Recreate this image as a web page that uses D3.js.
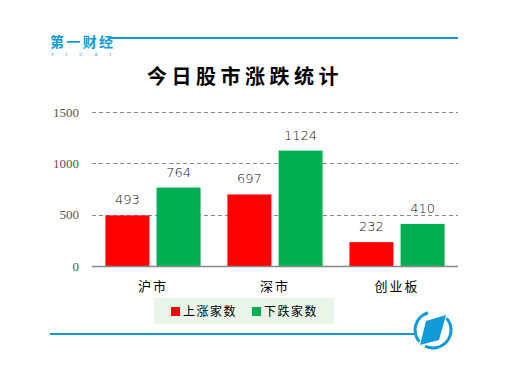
<!DOCTYPE html>
<html><head><meta charset="utf-8">
<script src="https://cdn.jsdelivr.net/npm/d3@7"></script>
<style>body{margin:0;background:#fff}svg{display:block}</style>
</head><body>
<script>
const categories = ["沪市", "深市", "创业板"];
const seriesNames = ["上涨家数", "下跌家数"];
const upValues = [493, 697, 232];
const downValues = [764, 1124, 410];
const yTicks = [0, 500, 1000, 1500];
const title = "今日股市涨跌统计";

const W = 516, H = 371;
const colors = ["#ff0000", "#00b050"];
const blue = "#0f9ad9";
const svg = d3.select("body").append("svg").attr("width", W).attr("height", H);

// header line & logo
svg.append("line").attr("x1", 108).attr("x2", 458).attr("y1", 38).attr("y2", 38)
  .attr("stroke", blue).attr("stroke-width", 2);
svg.append("text").attr("x", 50).attr("y", 47).text("第一财经")
  .attr("font-family", "Noto Sans CJK SC").attr("font-weight", "bold")
  .attr("font-size", 14).attr("fill", blue).attr("textLength", 63);
svg.append("text").attr("x", 51).attr("y", 56).text("Y I C A I")
  .attr("font-family", "DejaVu Sans").attr("font-size", 4.5).attr("fill", blue).attr("textLength", 60);

// title
svg.append("text").attr("x", 245).attr("y", 84).attr("text-anchor", "middle")
  .text(title).attr("font-family", "Noto Sans CJK SC").attr("font-weight", "bold")
  .attr("font-size", 20).attr("letter-spacing", 4.5).attr("fill", "#000");

// scales
const x0 = d3.scaleBand().domain(categories).range([92, 458]).paddingInner(0.22).paddingOuter(0.11);
const x1 = d3.scaleBand().domain(seriesNames).range([0, x0.bandwidth()]).paddingInner(0.14);
const y = d3.scaleLinear().domain([0, 1500]).range([266, 112]);

// grid
svg.append("g").selectAll("line").data(yTicks.filter(d => d > 0)).join("line")
  .attr("x1", 92).attr("x2", 458).attr("y1", d => Math.round(y(d)) + 0.5).attr("y2", d => Math.round(y(d)) + 0.5)
  .attr("stroke", "#888").attr("stroke-dasharray", "4,3");

// y labels
svg.append("g").selectAll("text").data(yTicks).join("text")
  .attr("x", 79).attr("y", d => y(d) + 4.5).attr("text-anchor", "end").text(d => d)
  .attr("font-family", "Liberation Serif").attr("font-size", 13).attr("fill", "#555");

// bars
const data = categories.map((c, i) => ({c, vals: [upValues[i], downValues[i]]}));
const g = svg.append("g").selectAll("g").data(data).join("g")
  .attr("transform", d => `translate(${x0(d.c)},0)`);
g.selectAll("rect").data(d => d.vals.map((v, j) => ({v, s: seriesNames[j], j}))).join("rect")
  .attr("x", d => x1(d.s)).attr("width", x1.bandwidth())
  .attr("y", d => y(d.v)).attr("height", d => y(0) - y(d.v))
  .attr("fill", d => colors[d.j]);
g.selectAll("text").data(d => d.vals.map((v, j) => ({v, s: seriesNames[j], j}))).join("text")
  .attr("x", d => x1(d.s) + x1.bandwidth() / 2).attr("y", d => y(d.v) - 11)
  .attr("text-anchor", "middle").text(d => d.v)
  .attr("font-family", "DejaVu Sans").attr("font-weight", 300).attr("font-size", 13).attr("fill", "#111");

// axis line
svg.append("line").attr("x1", 92).attr("x2", 458).attr("y1", 266.5).attr("y2", 266.5)
  .attr("stroke", "#888").attr("stroke-width", 1.5);

// category labels
svg.append("g").selectAll("text").data(categories).join("text")
  .attr("x", d => x0(d) + x0.bandwidth() / 2).attr("y", 291).attr("text-anchor", "middle")
  .text(d => d).attr("font-family", "Noto Sans CJK SC").attr("font-size", 13)
  .attr("letter-spacing", 2).attr("fill", "#000");

// legend
svg.append("rect").attr("x", 154).attr("y", 298).attr("width", 180).attr("height", 26).attr("fill", "#e8f5e8");
const lx = [171, 252];
seriesNames.forEach((s, i) => {
  svg.append("rect").attr("x", lx[i]).attr("y", 307).attr("width", 9).attr("height", 9).attr("fill", colors[i]);
  svg.append("text").attr("x", lx[i] + 12).attr("y", 316).text(s)
    .attr("font-family", "Noto Sans CJK SC").attr("font-size", 12).attr("letter-spacing", 1.5).attr("fill", "#000");
});

// bottom line & icon
svg.append("line").attr("x1", 50).attr("x2", 415).attr("y1", 334).attr("y2", 334)
  .attr("stroke", blue).attr("stroke-width", 2);
const cx = 433, cy = 330, r = 18;
const arc = d3.arc().innerRadius(r - 1.5).outerRadius(r + 1.5);
svg.append("path").attr("transform", `translate(${cx},${cy})`).attr("fill", blue)
  .attr("d", arc({startAngle: 0.85, endAngle: 3.6}));
svg.append("path").attr("transform", `translate(${cx},${cy})`).attr("fill", blue)
  .attr("d", arc({startAngle: 4.0, endAngle: 6.0}));
svg.append("path").attr("fill", blue)
  .attr("d", `M${cx-7},${cy-9} L${cx+13},${cy-15} L${cx+6},${cy+10} L${cx-13},${cy+15} Z`);
</script>
</body></html>
